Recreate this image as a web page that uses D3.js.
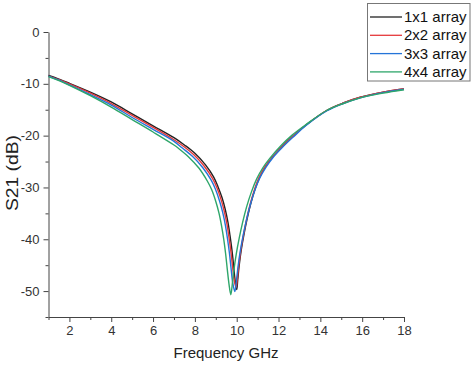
<!DOCTYPE html>
<html><head><meta charset="utf-8">
<script src="https://cdn.jsdelivr.net/npm/d3@7"></script>
<style>body{margin:0;background:#fff}svg{display:block}text{font-family:Arial,"Liberation Sans",sans-serif}</style>
</head><body><svg id="c" width="474" height="365"></svg>
<script>
const seriesNames = ["1x1 array","2x2 array","3x3 array","4x4 array"];
const seriesColors = ["#222222","#e5383b","#2474d8","#2ea66a"];

const freq1 = [1,1.5,2,3,4,5,6,7,7.5,8,8.5,8.9,9.1,9.3,9.45,9.58,9.68,9.77,9.85,9.92,10.0,10.05,10.12,10.22,10.35,10.5,10.68,10.88,11.1,11.37,11.7,12.2,12.72,13.3,14.32,15.1,15.91,17,18];
const s21_1 = [-8.4,-9.1,-9.9,-11.6,-13.5,-15.8,-18.1,-20.4,-21.8,-23.4,-25.6,-28.0,-29.8,-32.0,-34.2,-36.7,-39.3,-42.0,-45.0,-47.8,-49.7,-47.8,-45.0,-42.0,-39.0,-36.0,-33.0,-30.3,-28.0,-26.0,-24.2,-22.0,-20.0,-18.0,-15.1,-13.7,-12.6,-11.6,-11.0];

const freq2 = [1,1.5,2,3,4,5,6,7,7.5,7.95,8.45,8.85,9.05,9.25,9.4,9.53,9.63,9.72,9.8,9.88,9.97,10.03,10.1,10.2,10.33,10.48,10.66,10.86,11.08,11.36,11.7,12.2,12.72,13.3,14.32,15.1,15.91,17,18];
const s21_2 = [-8.5,-9.2,-10.0,-11.8,-13.8,-16.1,-18.4,-20.8,-22.2,-23.7,-25.9,-28.3,-30.0,-32.3,-34.5,-37.0,-39.6,-42.3,-45.2,-47.9,-49.3,-47.6,-45.0,-42.0,-39.0,-36.0,-33.0,-30.3,-28.0,-26.0,-24.2,-22.0,-20.0,-18.0,-15.1,-13.7,-12.6,-11.6,-10.95];

const freq3 = [1,1.5,2,3,4,5,6,7,7.4,7.88,8.38,8.78,8.98,9.18,9.33,9.46,9.56,9.65,9.73,9.81,9.91,9.98,10.06,10.17,10.31,10.47,10.66,10.87,11.1,11.38,11.7,12.2,12.72,13.3,14.32,15.1,15.91,17,18];
const s21_3 = [-8.5,-9.3,-10.2,-12.1,-14.1,-16.5,-18.8,-21.1,-22.4,-24.0,-26.2,-28.6,-30.3,-32.6,-34.8,-37.3,-39.9,-42.6,-45.6,-48.4,-50.1,-48.2,-45.4,-42.3,-39.2,-36.2,-33.2,-30.5,-28.2,-26.2,-24.4,-22.2,-20.2,-18.1,-15.2,-13.8,-12.7,-11.7,-11.05];

const freq4 = [1,1.5,2,3,4,5,6,7,7.2,7.7,8.2,8.6,8.8,9.0,9.15,9.28,9.38,9.47,9.55,9.63,9.72,9.79,9.87,9.98,10.12,10.28,10.47,10.7,10.95,11.25,11.6,12.1,12.65,13.3,14.32,15.1,15.91,17,18];
const s21_4 = [-8.6,-9.4,-10.3,-12.3,-14.5,-16.9,-19.3,-21.8,-22.4,-24.1,-26.3,-28.8,-30.4,-32.7,-34.9,-37.5,-40.0,-42.8,-45.8,-48.6,-50.7,-48.6,-45.8,-42.8,-39.8,-36.8,-33.8,-30.9,-28.4,-26.2,-24.3,-22.0,-19.9,-17.9,-15.1,-13.8,-12.7,-11.8,-11.15];

const xMajorTicks = [2,4,6,8,10,12,14,16,18];
const xMinorTicks = [1,3,5,7,9,11,13,15,17];
const yMajorTicks = [0,-10,-20,-30,-40,-50];
const yMinorTicks = [-5,-15,-25,-35,-45,-55];

const allFreq = [freq1,freq2,freq3,freq4];
const allS21 = [s21_1,s21_2,s21_3,s21_4];

const svg = d3.select("#c");
const x = d3.scaleLinear().domain([1,18]).range([48.5,404]);
const y = d3.scaleLinear().domain([-55,0]).range([317,32]);
const axisColor = "#444";

// x axis
const gx = svg.append("g").attr("transform","translate(0,317)");
gx.call(d3.axisBottom(x).tickValues(xMajorTicks).tickSize(5).tickSizeOuter(0).tickPadding(4));
gx.append("g").call(d3.axisBottom(x).tickValues(xMinorTicks).tickSize(3).tickFormat("")).select(".domain").remove();
gx.selectAll("path,line").attr("stroke",axisColor).attr("stroke-width",1);
gx.selectAll("text").attr("font-size",13).attr("fill","#333").attr("font-family","Arial, 'Liberation Sans', sans-serif");

// y axis
const gy = svg.append("g").attr("transform","translate(48.5,0)");
gy.call(d3.axisLeft(y).tickValues(yMajorTicks).tickSize(5).tickSizeOuter(0).tickPadding(4).tickFormat(d => String(d)));
gy.append("g").call(d3.axisLeft(y).tickValues(yMinorTicks).tickSize(3).tickFormat("")).select(".domain").remove();
gy.selectAll("path,line").attr("stroke",axisColor).attr("stroke-width",1);
gy.selectAll("text").attr("font-size",13).attr("fill","#333").attr("font-family","Arial, 'Liberation Sans', sans-serif");

// axis titles
svg.append("text").attr("x",226).attr("y",358).attr("text-anchor","middle")
  .attr("font-size",15).attr("fill","#222").text("Frequency GHz");
svg.append("text").attr("transform","translate(18,173) rotate(-90)").attr("text-anchor","middle")
  .attr("font-size",16).attr("fill","#222").attr("textLength",76).attr("lengthAdjust","spacingAndGlyphs").text("S21 (dB)");

// lines
const line = d3.line().x(d=>x(d[0])).y(d=>y(d[1])).curve(d3.curveCatmullRom.alpha(0.5));
allFreq.forEach((fs,i)=>{
  const data = fs.map((f,j)=>[f,allS21[i][j]]);
  svg.append("path").datum(data).attr("d",line).attr("fill","none")
    .attr("stroke",seriesColors[i]).attr("stroke-width",1.4);
});

// legend
const lg = svg.append("g");
lg.append("rect").attr("x",367.5).attr("y",3.5).attr("width",102.5).attr("height",77.5)
  .attr("fill","#fff").attr("stroke","#777").attr("stroke-width",1);
seriesNames.forEach((n,i)=>{
  const yy = 17 + i*18.3;
  lg.append("line").attr("x1",370).attr("x2",402).attr("y1",yy).attr("y2",yy)
    .attr("stroke",seriesColors[i]).attr("stroke-width",1.3);
  lg.append("text").attr("x",404).attr("y",yy+5).attr("font-size",15).attr("fill","#111").text(n);
});
</script></body></html>
